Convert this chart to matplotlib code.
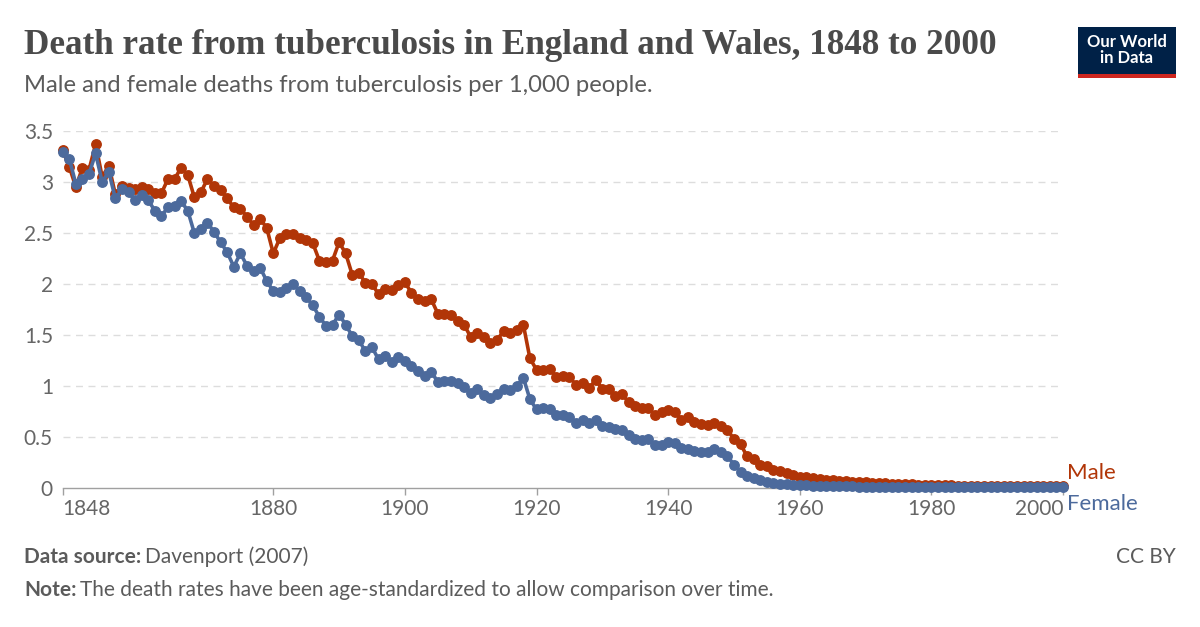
"""
Death rate from tuberculosis in England and Wales, 1848-2000 (OWID style).
Male vs female deaths per 1,000 people, age-standardized.
"""

import numpy as np
import matplotlib.pyplot as plt
from matplotlib.patches import Rectangle

# ---------------------------------------------------------------- palette
MALE_C, FEMALE_C = '#B13507', '#4C6A9C'
TITLE_C, SUB_C, TICK_C = '#4A4A4A', '#5B5B5B', '#666666'
GRID_C, AXIS_C = '#DDDDDD', '#A0A0A0'
NAVY, RED = '#002147', '#CE261E'

plt.rcParams['font.family'] = ['Lato', 'DejaVu Sans']

# ---------------------------------------------------------------------- data
years = np.arange(1848, 2001)

male = [
    3.31, 3.15, 2.95, 3.14, 3.12, 3.37, 3.05, 3.16, 2.88, 2.96,   # 1848-57
    2.94, 2.93, 2.95, 2.93, 2.89, 2.89, 3.03, 3.03, 3.14, 3.07,   # 1858-67
    2.85, 2.90, 3.03, 2.96, 2.92, 2.84, 2.75, 2.74, 2.66, 2.58,   # 1868-77
    2.64, 2.55, 2.30, 2.45, 2.49, 2.49, 2.45, 2.43, 2.40, 2.23,   # 1878-87
    2.22, 2.23, 2.41, 2.30, 2.09, 2.11, 2.01, 2.00, 1.90, 1.95,   # 1888-97
    1.94, 1.99, 2.02, 1.91, 1.85, 1.83, 1.85, 1.71, 1.71, 1.70,   # 1898-1907
    1.64, 1.60, 1.48, 1.52, 1.48, 1.42, 1.45, 1.54, 1.52, 1.55,   # 1908-17
    1.60, 1.27, 1.16, 1.16, 1.17, 1.09, 1.10, 1.09, 1.01, 1.03,   # 1918-27
    0.98, 1.06, 0.97, 0.97, 0.90, 0.92, 0.84, 0.80, 0.78, 0.78,   # 1928-37
    0.72, 0.75, 0.76, 0.75, 0.67, 0.70, 0.65, 0.63, 0.62, 0.64,   # 1938-47
    0.61, 0.57, 0.48, 0.43, 0.31, 0.28, 0.23, 0.22, 0.18, 0.17,   # 1948-57
    0.15, 0.13, 0.11, 0.11, 0.10, 0.09, 0.08, 0.075, 0.07, 0.065,  # 1958-67
    0.06, 0.06, 0.055, 0.05, 0.05, 0.045, 0.04, 0.04, 0.035, 0.035,  # 1968-77
    0.03, 0.03, 0.03, 0.028, 0.026, 0.025, 0.024, 0.022, 0.021, 0.02,  # 1978-87
    0.02, 0.02, 0.02, 0.019, 0.018, 0.018, 0.017, 0.017, 0.016, 0.016,  # 1988-97
    0.015, 0.015, 0.015,                                             # 1998-2000
]

female = [
    3.29, 3.23, 2.98, 3.03, 3.08, 3.28, 3.00, 3.10, 2.84, 2.93,   # 1848-57
    2.90, 2.82, 2.87, 2.82, 2.72, 2.67, 2.75, 2.76, 2.81, 2.72,   # 1858-67
    2.50, 2.54, 2.60, 2.51, 2.41, 2.31, 2.17, 2.30, 2.18, 2.13,   # 1868-77
    2.16, 2.03, 1.93, 1.92, 1.96, 2.00, 1.93, 1.87, 1.79, 1.68,   # 1878-87
    1.59, 1.60, 1.70, 1.60, 1.49, 1.45, 1.34, 1.38, 1.26, 1.29,   # 1888-97
    1.24, 1.28, 1.25, 1.20, 1.15, 1.10, 1.14, 1.04, 1.05, 1.05,   # 1898-1907
    1.03, 0.99, 0.93, 0.97, 0.91, 0.88, 0.92, 0.97, 0.96, 1.00,   # 1908-17
    1.08, 0.87, 0.77, 0.78, 0.77, 0.72, 0.72, 0.70, 0.64, 0.67,   # 1918-27
    0.64, 0.67, 0.61, 0.60, 0.58, 0.57, 0.52, 0.48, 0.47, 0.48,   # 1928-37
    0.42, 0.42, 0.45, 0.44, 0.39, 0.38, 0.36, 0.35, 0.35, 0.38,   # 1938-47
    0.35, 0.31, 0.23, 0.16, 0.12, 0.10, 0.08, 0.06, 0.05, 0.04,   # 1948-57
    0.035, 0.03, 0.03, 0.025, 0.022, 0.02, 0.02, 0.018, 0.017, 0.016,  # 1958-67
    0.015, 0.014, 0.013, 0.012, 0.012, 0.011, 0.011, 0.010, 0.010, 0.010,  # 1968-77
    0.009, 0.009, 0.009, 0.009, 0.008, 0.008, 0.008, 0.008, 0.008, 0.008,  # 1978-87
    0.008, 0.008, 0.008, 0.008, 0.008, 0.008, 0.008, 0.008, 0.008, 0.008,  # 1988-97
    0.008, 0.008, 0.008,                                             # 1998-2000
]

xticks = [1848, 1880, 1900, 1920, 1940, 1960, 1980, 2000]
yticks = [0, 0.5, 1, 1.5, 2, 2.5, 3, 3.5]
ytick_labels = ['0', '0.5', '1', '1.5', '2', '2.5', '3', '3.5']

# ------------------------------------------------------------------- figure
W, H = 1200, 627
fig = plt.figure(figsize=(W / 100, H / 100), dpi=100)
fig.patch.set_facecolor('white')


def fx(px):
    return px / W


def fy(py):
    return 1 - py / H


ax = fig.add_axes([fx(62.7), fy(488), fx(1063) - fx(62.7), fy(131) - fy(488)])

ax.plot(years, male, color=MALE_C, lw=2.6, marker='o', ms=6.8,
        clip_on=False, zorder=3)
ax.plot(years, female, color=FEMALE_C, lw=2.6, marker='o', ms=6.8,
        clip_on=False, zorder=4)

ax.set_xlim(1848, 2000)
ax.set_ylim(0, 3.5)
ax.set_yticks(yticks)
ax.set_yticklabels(ytick_labels)
ax.set_xticks(xticks)
ax.set_xticklabels([str(t) for t in xticks])
labs = ax.get_xticklabels()
labs[0].set_ha('left')
labs[-1].set_ha('right')

ax.grid(axis='y', color=GRID_C, lw=1, linestyle=(0, (5, 4)))
ax.set_axisbelow(True)
for name in ['top', 'right', 'left']:
    ax.spines[name].set_visible(False)
ax.spines['bottom'].set_color(AXIS_C)
ax.spines['bottom'].set_linewidth(1)
ax.tick_params(axis='y', length=0, pad=7, labelsize=15, labelcolor=TICK_C)
ax.tick_params(axis='x', length=5, width=1, color=AXIS_C, pad=3,
               labelsize=15, labelcolor=TICK_C)
# hide the zero gridline under the axis
ax.get_ygridlines()[0].set_visible(False)

# series labels at the line ends
fig.text(fx(1067), fy(473), 'Male', color=MALE_C, fontsize=16,
         ha='left', va='center')
fig.text(fx(1067), fy(504), 'Female', color=FEMALE_C, fontsize=16,
         ha='left', va='center')

# ------------------------------------------------------------ titles, logo
fig.text(fx(24), fy(46), 'Death rate from tuberculosis in England and Wales, 1848 to 2000',
         family=['Liberation Serif', 'DejaVu Serif'], fontweight='bold',
         fontsize=25.3, color=TITLE_C, ha='left', va='center')
fig.text(fx(24), fy(85), 'Male and female deaths from tuberculosis per 1,000 people.',
         fontsize=17.2, color=SUB_C, ha='left', va='center')

fig.add_artist(Rectangle((fx(1078), fy(78)), fx(98), 51 / H,
                         transform=fig.transFigure, facecolor=NAVY,
                         edgecolor='none'))
fig.add_artist(Rectangle((fx(1078), fy(78)), fx(98), 4 / H,
                         transform=fig.transFigure, facecolor=RED,
                         edgecolor='none'))
fig.text(fx(1127), fy(50), 'Our World\nin Data', color='white', fontsize=12,
         fontweight='bold', ha='center', va='center', linespacing=1.0)

# ------------------------------------------------------------------- footer
renderer = fig.canvas.get_renderer()


def footer(y, bold, rest):
    t = fig.text(fx(24), fy(y), bold, fontweight='bold', fontsize=15,
                 color=SUB_C, ha='left', va='center')
    bb = t.get_window_extent(renderer)
    fig.text(bb.x1 / W + fx(4), fy(y), rest, fontsize=15, color=SUB_C,
             ha='left', va='center')


footer(557, 'Data source:', 'Davenport (2007)')
footer(590, 'Note:', 'The death rates have been age-standardized to allow comparison over time.')
fig.text(fx(1176), fy(557), 'CC BY', fontsize=15, color=SUB_C,
         ha='right', va='center')

fig.savefig('out.png', dpi=100, facecolor='white')
